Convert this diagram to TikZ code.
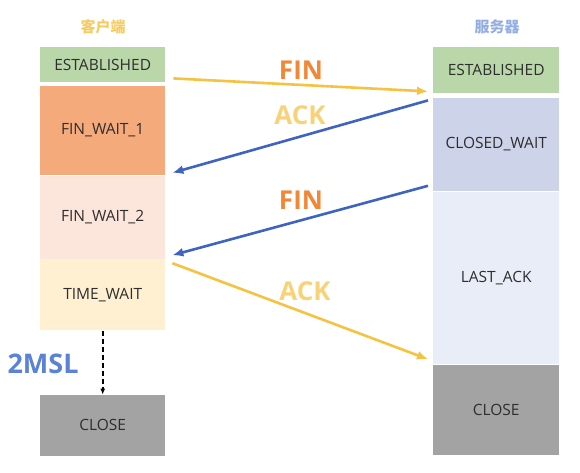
\documentclass[tikz,border=0pt]{standalone}
\usepackage{fontspec}
\setmainfont{Open Sans}
\newfontfamily\cjk{Noto Sans CJK SC}
\usepackage{xcolor}
\usetikzlibrary{arrows.meta, positioning}

\definecolor{estgreen}{HTML}{B9D7A8}
\definecolor{fwone}{HTML}{F4AA7A}
\definecolor{fwtwo}{HTML}{FCE5DA}
\definecolor{twyellow}{HTML}{FFF0D2}
\definecolor{closegray}{HTML}{A3A3A3}
\definecolor{cwlav}{HTML}{CDD4EA}
\definecolor{lalight}{HTML}{E9EDF7}
\definecolor{arryellow}{HTML}{F5C242}
\definecolor{arrblue}{HTML}{3F63C0}
\definecolor{finorange}{HTML}{F08838}
\definecolor{ackyellow}{HTML}{F8D278}
\definecolor{msblue}{HTML}{5A82D6}

\begin{document}
\begin{tikzpicture}[x=1pt, y=-1pt,
        lstate/.style={rectangle, inner sep=0pt, minimum width=125pt, text=black!82, font=\fontsize{15.5}{17}\selectfont},
        rstate/.style={lstate, minimum width=126pt},
        msg/.style={font=\fontsize{26}{28}\selectfont\bfseries},
        yarrow/.style={-{Latex[length=11pt,width=9pt]}, line width=2.6pt, arryellow},
        barrow/.style={-{Latex[length=11pt,width=9pt]}, line width=2.6pt, arrblue},
        dasharrow/.style={dash pattern=on 5pt off 3pt, -{Latex[length=6pt,width=5pt]}, line width=1.8pt, black}
    ]
        \useasboundingbox (0,0) rectangle (580,472);
        % Nodes
            \node[lstate, fill=estgreen, minimum height=35pt, anchor=north west] (lest) at (40,47) {ESTABLISHED};
            \node[lstate, fill=fwone, minimum height=89pt, below=3pt of lest] (fw1) {FIN\_WAIT\_1};
            \node[lstate, fill=fwtwo, minimum height=83pt, below=1pt of fw1] (fw2) {FIN\_WAIT\_2};
            \node[lstate, fill=twyellow, minimum height=71pt, below=0pt of fw2] (tw) {TIME\_WAIT};
            \node[lstate, fill=closegray, minimum height=61pt, below=64pt of tw] (lclose) {CLOSE};

            \node[rstate, fill=estgreen, minimum height=46pt, anchor=north west] (rest) at (433,47) {ESTABLISHED};
            \node[rstate, fill=cwlav, minimum height=93pt, below=4pt of rest] (rcw) {CLOSED\_WAIT};
            \node[rstate, fill=lalight, minimum height=172pt, below=1pt of rcw] (lack) {LAST\_ACK};
            \node[rstate, fill=closegray, minimum height=90pt, below=1pt of lack] (rclose) {CLOSE};

            \node[font=\cjk\fontsize{15}{17}\selectfont\bfseries, text=arryellow!85] (client) at (103,27) {客户端};
            \node[font=\cjk\fontsize{15}{17}\selectfont\bfseries, text=msblue!65] (server) at (497,27) {服务器};

            % Arrows
            \draw[yarrow] ([xshift=8pt,yshift=4pt]lest.south east) -- ([xshift=-5pt,yshift=2pt]rest.south west);
            \draw[barrow] ([xshift=-5pt,yshift=-3pt]rcw.north west) -- ([xshift=7pt,yshift=2pt]fw1.south east);
            \draw[barrow] ([xshift=-5pt,yshift=5pt]rcw.south west) -- ([xshift=7pt,yshift=4pt]fw2.south east);
            \draw[yarrow] ([xshift=7pt,yshift=-4pt]tw.north east) -- ([xshift=-5pt,yshift=5pt]lack.south west);
            \draw[dasharrow] (tw) -- (lclose);

            % Labels
            \node[msg, text=finorange] (fin1) at (301,70) {FIN};
            \node[msg, text=ackyellow] (ack1) at (300,115) {ACK};
            \node[msg, text=finorange] (fin2) at (301,200) {FIN};
            \node[msg, text=ackyellow] (ack2) at (305,291) {ACK};
            \node[msg, text=msblue, font=\fontsize{27}{29}\selectfont\bfseries] (msl) at (43,364) {2MSL};
    \end{tikzpicture}
\end{document}
